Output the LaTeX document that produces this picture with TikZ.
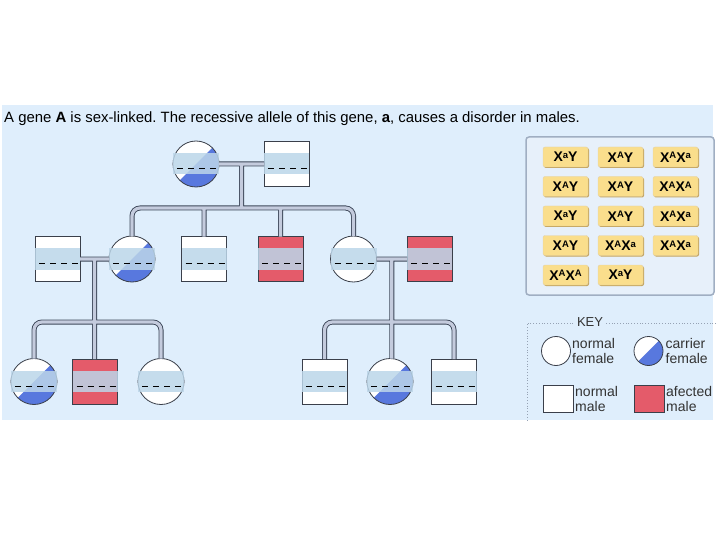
\documentclass[tikz,border=0pt]{standalone}
\usepackage{fontspec}
\setmainfont{Liberation Sans}
\usepackage{xcolor}
\usetikzlibrary{positioning,calc,shadows}
\frenchspacing
\definecolor{pagebg}{RGB}{223,238,252}
\definecolor{panelfill}{RGB}{231,240,250}
\definecolor{panelline}{RGB}{160,174,194}
\definecolor{symline}{RGB}{58,63,74}
\definecolor{carrierblue}{RGB}{88,120,222}
\definecolor{affectedred}{RGB}{228,91,106}
\definecolor{bandblue}{RGB}{188,214,233}
\definecolor{linedark}{RGB}{61,71,89}
\definecolor{linefill}{RGB}{196,203,221}
\definecolor{tilefill}{RGB}{250,222,140}
\definecolor{tileedge}{RGB}{196,164,92}
\definecolor{keytext}{RGB}{51,51,51}
\definecolor{keydots}{RGB}{150,162,180}
\newcommand{\allele}[1]{\raisebox{3.5pt}{\fontsize{9.5}{10}\selectfont #1}}
\tikzset{
    pedfemale/.style={draw=symline, circle, line width=0.8pt, minimum size=46pt, inner sep=0pt, outer sep=0pt, fill=white},
    pedmale/.style={draw=symline, rectangle, line width=0.8pt, minimum width=45pt, minimum height=45pt, inner sep=0pt, outer sep=0pt, fill=white},
    pedcarrier/.style={path picture={
        \fill[carrierblue] (path picture bounding box.south west) -- (path picture bounding box.north east) -- (path picture bounding box.south east) -- cycle;
    }},
    pedaffected/.style={fill=affectedred},
    pedband/.style={fill=bandblue, fill opacity=0.85},
    peddash/.style={draw=black, line width=0.8pt, dash pattern=on 6pt off 5pt},
    genopanel/.style={draw=panelline, line width=1.5pt, rounded corners=3pt, fill=panelfill},
    genotile/.style={rounded corners=2pt, fill=tilefill, draw=tileedge!50, line width=0.4pt, minimum width=45pt, minimum height=20pt, inner sep=0pt,
        font=\bfseries\fontsize{14}{14}\selectfont,
        general shadow={fill=tileedge, shadow xshift=1pt, shadow yshift=-1pt}},
    keylabel/.style={align=left, inner sep=0pt, text=keytext, font=\fontsize{14}{15}\selectfont},
    keyborder/.style={draw=keydots, line width=0.8pt, dash pattern=on 0.8pt off 2pt}
}

\begin{document}
\begin{tikzpicture}[x=1pt, y=-1pt]
    \useasboundingbox (0,0) rectangle (720,540);
    \fill[pagebg] (2,105) rectangle (713,420);

    \node[anchor=west, inner sep=0pt, font=\fontsize{14.9}{16}\selectfont] (title) at (4,119)
        {A gene \textbf{A} is sex-linked. The recessive allele of this gene, \textbf{a}, causes a disorder in males.};

    % generation I
    \node[pedfemale, pedcarrier] (f1) at (196,164) {};
    \node[pedmale] (m1) at (286.5,164) {};
    % generation II
    \node[pedmale] (m2) at (57.5,259) {};
    \node[pedfemale, pedcarrier] (f2) at (132,259) {};
    \node[pedmale] (m3) at (204,259) {};
    \node[pedmale, pedaffected] (m4) at (280.5,259) {};
    \node[pedfemale] (f3) at (353.5,259) {};
    \node[pedmale, pedaffected] (m5) at (429.5,259) {};
    % generation III
    \node[pedfemale, pedcarrier] (f4) at (34,381.5) {};
    \node[pedmale, pedaffected] (m6) at (95,381.5) {};
    \node[pedfemale] (f5) at (161,381.5) {};
    \node[pedmale] (m7) at (324.5,381.5) {};
    \node[pedfemale, pedcarrier] (f6) at (390,381.5) {};
    \node[pedmale] (m8) at (454,381.5) {};

    \foreach \n in {f1,m1,m2,f2,m3,m4,f3,m5,f4,m6,f5,m7,f6,m8} {
        \fill[pedband] ([yshift=11pt]\n.west) rectangle ([yshift=-10.5pt]\n.east);
        \draw[peddash] ([xshift=4pt, yshift=-4.5pt]\n.west) -- ++(39,0);
    }

    \coordinate (c1) at ($(f1.east)!0.5!(m1.west)$);
    \coordinate (c2) at ($(m2.east)!0.5!(f2.west)$);
    \coordinate (c3) at ($(f3.east)!0.5!(m5.west)$);
    \path (c1) ++(0,44) coordinate (s1);
    \path (c2) ++(0,63) coordinate (s2);
    \path (c3) ++(0,63) coordinate (s3);

    \foreach \lw/\lc in {5pt/linedark, 3.2pt/linefill}
        \draw[line width=\lw, draw=\lc, rounded corners=8pt]
            (f1.east) -- (m1.west)
            (c1) -- (s1)
            (f2.north) |- (s1) -| (f3.north)
            (m3.north) -- (m3.north |- s1)
            (m4.north) -- (m4.north |- s1)
            (m2.east) -- (f2.west)
            (c2) -- (c2 |- m6.north)
            (f4.north) |- (s2) -| (f5.north)
            (f3.east) -- (m5.west)
            (c3) -- (c3 |- f6.north)
            (m7.north) |- (s3) -| (m8.north);

    % genotype cards
    \draw[genopanel] (526,137) rectangle (714,295);
    \foreach \gname/\gx/\gy/\gtxt in {
        g11/565.5/157/{X\allele{a}Y}, g12/620.5/157/{X\allele{A}Y}, g13/675.5/157/{X\allele{A}X\allele{a}},
        g21/565.5/186.5/{X\allele{A}Y}, g22/620.5/186.5/{X\allele{A}Y}, g23/675.5/186.5/{X\allele{A}X\allele{A}},
        g31/565.5/216/{X\allele{a}Y}, g32/620.5/216/{X\allele{A}Y}, g33/675.5/216/{X\allele{A}X\allele{a}},
        g41/565.5/245.5/{X\allele{A}Y}, g42/620.5/245.5/{X\allele{A}X\allele{a}}, g43/675.5/245.5/{X\allele{A}X\allele{a}},
        g51/565.5/275/{X\allele{A}X\allele{A}}, g52/620.5/275/{X\allele{a}Y}}
        \node[genotile] (\gname) at (\gx,\gy) {\gtxt};

    % key
    \draw[keyborder] (716,323) -| (527,420);
    \node[fill=pagebg, inner sep=2pt, text=keytext, font=\fontsize{13}{14}\selectfont] (keytitle) at (590,322) {KEY};
    \node[pedfemale, minimum size=29pt] (keynf) at (556,351) {};
    \node[keylabel, right=1.5pt of keynf] (keynftext) {normal\\female};
    \node[pedfemale, pedcarrier, minimum size=29pt] (keycf) at (648.5,351) {};
    \node[keylabel, right=2.5pt of keycf] (keycftext) {carrier\\female};
    \node[pedmale, minimum width=30pt, minimum height=27pt] (keynm) at (558,398.5) {};
    \node[keylabel, right=2pt of keynm] (keynmtext) {normal\\male};
    \node[pedmale, pedaffected, minimum width=30pt, minimum height=27pt] (keyam) at (649,399) {};
    \node[keylabel, right=2pt of keyam] (keyamtext) {afected\\male};
\end{tikzpicture}
\end{document}
